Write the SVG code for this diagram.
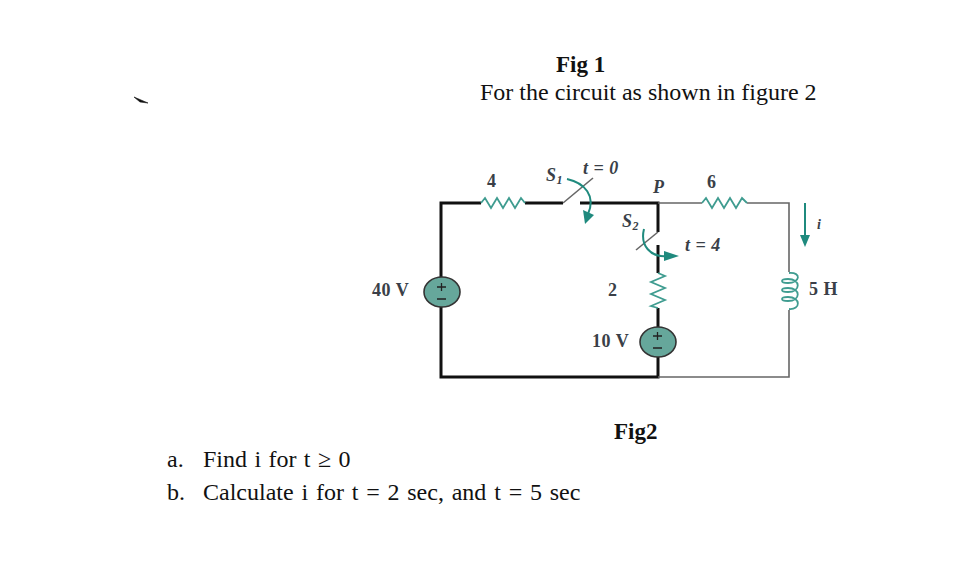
<svg xmlns="http://www.w3.org/2000/svg" width="966" height="573" viewBox="0 0 966 573">
<style>
.t{font-family:"Liberation Serif","Times New Roman",serif;font-size:24px;fill:#111}
.b{font-weight:bold;font-size:23px}
.l{font-family:"Liberation Serif","Times New Roman",serif;font-size:18px;font-weight:bold;fill:#3a3f48;letter-spacing:.5px}
.i{font-style:italic}
.w{fill:none;stroke:#111;stroke-width:3}
.g{fill:none;stroke:#666;stroke-width:1.6}
.r{fill:none;stroke:#3f9c90;stroke-width:1.8}
.a{fill:none;stroke:#1f8a7e;stroke-width:2}
.h{fill:#1f8a7e}
.s{fill:#66a79b;stroke:#333;stroke-width:1.6}
.p{fill:none;stroke:#222;stroke-width:1.3}
</style>
<rect width="966" height="573" fill="#fff"/>
<path d="M134 97 L141 100 L148 103 L140 102 Z" fill="#111" stroke="#111" stroke-width=".6"/>
<text class="t b" x="556" y="72">Fig 1</text>
<text class="t" x="480" y="100">For the circuit as shown in figure 2</text>
<g id="connectors">
<path class="w" d="M441 277V203H481"/>
<path class="w" d="M525 203H563"/>
<path class="g" d="M563 203L593 178"/>
<path class="w" d="M580 203H658V232"/>
<path class="g" d="M658 232L636 250"/>
<path class="w" d="M658 245V273"/>
<path class="w" d="M658 308V327"/>
<path class="w" d="M658 357V377H441V307"/>
<path class="g" d="M658 203H702M747 203H789V272M789 310V377H658"/>
</g>
<g id="r4"><path class="r" d="M481 203l4-5 6 10 6-10 6 10 6-10 6 10 6-10 4 5"/><text class="l" x="487" y="187">4</text></g>
<g id="r6"><path class="r" d="M702 203l4-5 6 10 6-10 6 10 6-10 6 10 6-10 5 5"/><text class="l" x="707" y="188">6</text></g>
<g id="r2"><path class="r" d="M658 273l7 3-14 6 14 6-14 6 14 6-14 6 7 2"/><text class="l" x="608" y="296">2</text></g>
<g id="p"><text class="l i" x="653" y="193">P</text></g>
<g id="s1">
<path class="a" d="M567 179C585 183 596 196 588 214"/>
<path class="h" d="M583 210L594 215L585 224Z"/>
<text class="l i" x="546" y="181">S<tspan font-size="12" dy="3">1</tspan></text>
<text class="l i" x="583" y="174">t = 0</text>
</g>
<g id="s2">
<path class="a" d="M644 229C640 245 650 258 668 256"/>
<path class="h" d="M664 251L679 256L664 261Z"/>
<text class="l i" x="622" y="227">S<tspan font-size="12" dy="3">2</tspan></text>
<text class="l i" x="685" y="251">t = 4</text>
</g>
<g id="source40"><ellipse class="s" cx="442" cy="292" rx="18" ry="15"/><path class="p" d="M437 287h9M441.500 283v8M437 299h9"/><text class="l" x="372" y="296">40 V</text></g>
<g id="source10"><ellipse class="s" cx="658" cy="342" rx="18" ry="15"/><path class="p" d="M653 336h9M657.500 332v8M653 348h9"/><text class="l" x="592" y="347">10 V</text></g>
<g id="inductor"><path class="r" d="M789 273C802 272 800 283 788 283C780 283 780 279 788 279C801 279 801 292 788 292C780 292 780 288 788 288C801 288 801 301 788 301C780 301 780 297 788 297C801 297 801 310 789 309"/><text class="l" x="809" y="295">5 H</text></g>
<g id="current"><path class="a" d="M805 203V236"/><path class="h" d="M800 235H810L805 247Z"/><text class="l i" x="817" y="229" style="font-size:14px">i</text></g>
<text class="t b" x="614" y="439">Fig2</text>
<text class="t" x="167" y="467">a.</text><text class="t" x="203" y="467" word-spacing="1.400">Find i for t ≥ 0</text>
<text class="t" x="167" y="500">b.</text><text class="t" x="203" y="500" word-spacing="1.800">Calculate i for t = 2 sec, and t = 5 sec</text>
</svg>
